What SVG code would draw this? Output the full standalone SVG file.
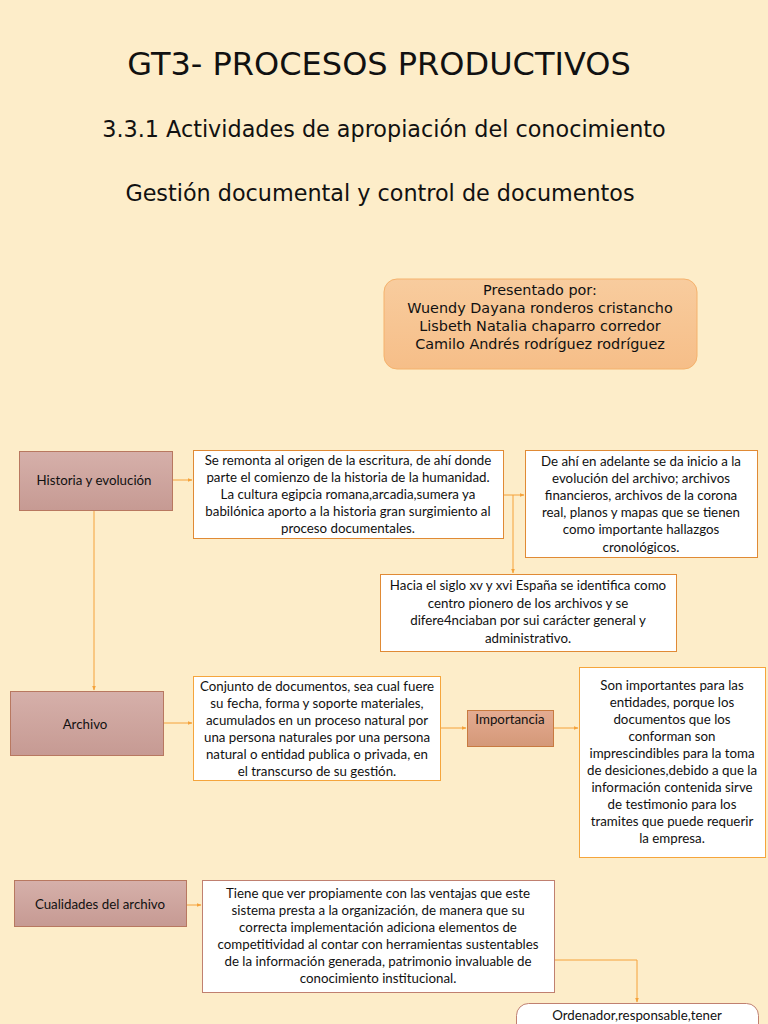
<svg xmlns="http://www.w3.org/2000/svg" width="768" height="1024" viewBox="0 0 768 1024">
<defs>
<linearGradient id="gBrown" x1="0" y1="0" x2="0" y2="1"><stop offset="0" stop-color="#D6B0AA"/><stop offset="1" stop-color="#C69A93"/></linearGradient>
<linearGradient id="gImp" x1="0" y1="0" x2="0" y2="1"><stop offset="0" stop-color="#E4AC92"/><stop offset="1" stop-color="#D49878"/></linearGradient>
<linearGradient id="gPres" x1="0" y1="0" x2="0" y2="1"><stop offset="0" stop-color="#F8CC9E"/><stop offset="1" stop-color="#F6BE88"/></linearGradient>
<marker id="arr" viewBox="0 0 10 10" refX="9" refY="5" markerWidth="5" markerHeight="5" orient="auto"><path d="M0,1 L10,5 L0,9 z" fill="#F5A23A"/></marker>
<style>
.t{font-family:"DejaVu Sans",sans-serif;fill:#111;text-anchor:middle}
.b{font-family:Lato,"Open Sans",sans-serif;font-size:13.3px;fill:#111;text-anchor:middle}
.node{fill:url(#gBrown);stroke:#B87860;stroke-width:1}
.txt{fill:#fff;stroke:#E08A35;stroke-width:1}
.c{fill:none;stroke:#F5A23A;stroke-width:1;marker-end:url(#arr)}
.cl{fill:none;stroke:#F5A23A;stroke-width:1}
</style>
</defs>
<rect width="768" height="1024" fill="#FDEDC9"/>
<text class="t" x="379" y="75" font-size="32">GT3- PROCESOS PRODUCTIVOS</text>
<text class="t" x="384" y="137" font-size="22.3">3.3.1 Actividades de apropiación del conocimiento</text>
<text class="t" x="380" y="201" font-size="22.3">Gestión documental y control de documentos</text>

<g id="presentado">
<rect x="384" y="279" width="313" height="90" rx="13" fill="url(#gPres)" stroke="#F5B26C"/>
<text class="t" font-size="14.4"><tspan x="540" y="295">Presentado por:</tspan><tspan x="540" y="313">Wuendy Dayana ronderos cristancho</tspan><tspan x="540" y="331">Lisbeth Natalia chaparro corredor</tspan><tspan x="540" y="349">Camilo Andrés rodríguez rodríguez</tspan></text>
</g>

<g id="connectors">
<path class="c" d="M172,480 H192"/>
<path class="cl" d="M503,495 H513"/>
<path class="c" d="M513,495 H524"/>
<path class="c" d="M513,495 V573"/>
<path class="c" d="M94,510 V690"/>
<path class="c" d="M163,723 H192"/>
<path class="c" d="M440,728 H466"/>
<path class="c" d="M553,728 H578"/>
<path class="c" d="M186,905 H201"/>
<path class="c" d="M554,960 H637 V1002"/>
</g>

<g id="historia">
<rect class="node" x="19.5" y="451.5" width="153" height="59"/>
<text class="b" x="94" y="485">Historia y evolución</text>
</g>

<g id="remonta">
<rect class="txt" x="193.5" y="450.5" width="310" height="88"/>
<text class="b"><tspan x="348" y="465">Se remonta al origen de la escritura, de ahí donde</tspan><tspan x="348" y="482">parte el comienzo de la historia de la humanidad.</tspan><tspan x="348" y="499">La cultura egipcia romana,arcadia,sumera ya</tspan><tspan x="348" y="516">babilónica aporto a la historia gran surgimiento al</tspan><tspan x="348" y="533">proceso documentales.</tspan></text>
</g>

<g id="adelante">
<rect class="txt" x="525.5" y="450.5" width="232" height="107"/>
<text class="b"><tspan x="641" y="466">De ahí en adelante se da inicio a la</tspan><tspan x="641" y="483">evolución del archivo; archivos</tspan><tspan x="641" y="500">financieros, archivos de la corona</tspan><tspan x="641" y="517">real, planos y mapas que se tienen</tspan><tspan x="641" y="534">como importante hallazgos</tspan><tspan x="641" y="552">cronológicos.</tspan></text>
</g>

<g id="hacia">
<rect class="txt" x="380.5" y="574.5" width="296" height="77"/>
<text class="b"><tspan x="528" y="590">Hacia el siglo xv y xvi España se identifica como</tspan><tspan x="528" y="608">centro pionero de los archivos y se</tspan><tspan x="528" y="625">difere4nciaban por sui carácter general y</tspan><tspan x="528" y="643">administrativo.</tspan></text>
</g>

<g id="archivo">
<rect class="node" x="10.5" y="691.5" width="153" height="64"/>
<text class="b" x="85" y="729">Archivo</text>
</g>

<g id="conjunto">
<rect class="txt" x="193.5" y="676.5" width="247" height="104" style="stroke:#F5A53C"/>
<text class="b"><tspan x="317" y="691">Conjunto de documentos, sea cual fuere</tspan><tspan x="317" y="708">su fecha, forma y soporte materiales,</tspan><tspan x="317" y="725">acumulados en un proceso natural por</tspan><tspan x="317" y="742">una persona naturales por una persona</tspan><tspan x="317" y="759">natural o entidad publica o privada, en</tspan><tspan x="317" y="776">el transcurso de su gestión.</tspan></text>
</g>

<g id="importancia">
<rect x="467.5" y="710.5" width="86" height="36" fill="url(#gImp)" stroke="#C87A40"/>
<text class="b" x="510" y="724">Importancia</text>
</g>

<g id="son">
<rect class="txt" x="579.5" y="667.5" width="186" height="190" style="stroke:#F5A53C"/>
<text class="b"><tspan x="672" y="690">Son importantes para las</tspan><tspan x="672" y="707">entidades, porque los</tspan><tspan x="672" y="724">documentos que los</tspan><tspan x="672" y="741">conforman son</tspan><tspan x="672" y="758">imprescindibles para la toma</tspan><tspan x="672" y="775">de desiciones,debido a que la</tspan><tspan x="672" y="792">información contenida sirve</tspan><tspan x="672" y="809">de testimonio para los</tspan><tspan x="672" y="826">tramites que puede requerir</tspan><tspan x="672" y="843">la empresa.</tspan></text>
</g>

<g id="cualidades">
<rect class="node" x="14.5" y="880.5" width="172" height="46"/>
<text class="b" x="100" y="909">Cualidades del archivo</text>
</g>

<g id="tiene">
<rect class="txt" x="202.5" y="880.5" width="352" height="112" style="stroke:#C08070"/>
<text class="b"><tspan x="378" y="898">Tiene que ver propiamente con las ventajas que este</tspan><tspan x="378" y="915">sistema presta a la organización, de manera que  su</tspan><tspan x="378" y="932">correcta implementación adiciona elementos de</tspan><tspan x="378" y="949">competitividad al contar con herramientas sustentables</tspan><tspan x="378" y="966">de la información generada, patrimonio invaluable de</tspan><tspan x="378" y="983">conocimiento institucional.</tspan></text>
</g>

<g id="ordenador">
<rect x="516.5" y="1003.5" width="242" height="50" rx="12" fill="#fff" stroke="#C08070"/>
<text class="b" x="637" y="1020">Ordenador,responsable,tener</text>
</g>
</svg>
